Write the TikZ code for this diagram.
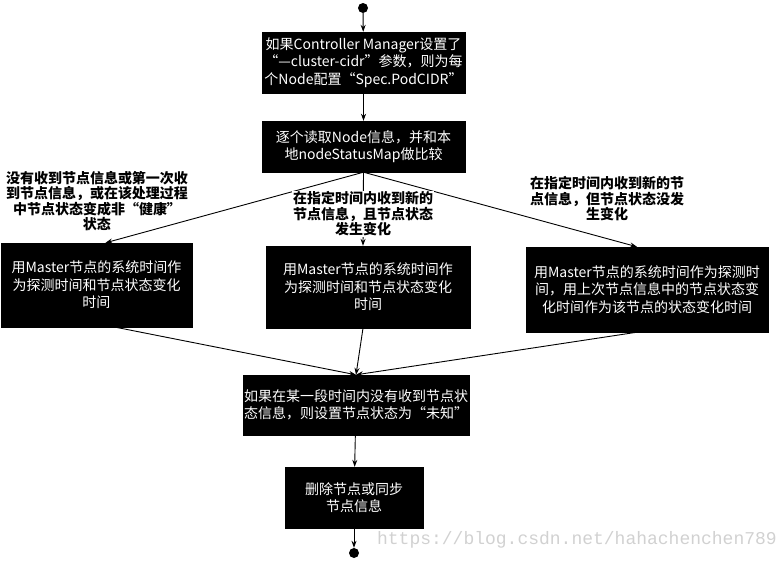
\documentclass[tikz,border=0pt]{standalone}
\usepackage{fontspec}
\setmainfont{Noto Sans CJK SC}
\newfontfamily\wmfont{Liberation Mono}
\usetikzlibrary{arrows.meta}
\tikzset{
  box/.style={draw=black, fill=black, text=white, align=center, inner sep=0pt,
    font=\fontsize{14}{17.5}\selectfont},
  lbl/.style={align=center, inner sep=1pt, font=\bfseries\fontsize{14}{15.5}\selectfont},
  dot/.style={circle, fill=black, inner sep=0pt, minimum size=10pt},
  arr/.style={line width=0.9pt, -{Stealth[length=7pt,width=5pt]}},
}
\begin{document}
\begin{tikzpicture}[x=1pt,y=-1pt]
\useasboundingbox (0,0) rectangle (777,560);
\node[dot] (s) at (363,8) {};
\node[box, minimum width=203pt, minimum height=61pt] (b1) at (363.5,62.5)
  {如果Controller Manager设置了\\“—cluster-cidr”参数，则为每\\个Node配置“Spec.PodCIDR”};
\node[box, minimum width=203pt, minimum height=51pt] (b2) at (363.5,146.5)
  {逐个读取Node信息，并和本\\地nodeStatusMap做比较};
\node[box, minimum width=191pt, minimum height=84pt] (bL) at (96.5,285)
  {用Master节点的系统时间作\\为探测时间和节点状态变化\\时间};
\node[box, minimum width=204pt, minimum height=82pt] (bM) at (368,287)
  {用Master节点的系统时间作\\为探测时间和节点状态变化\\时间};
\node[box, minimum width=242pt, minimum height=85pt] (bR) at (647,289.5)
  {用Master节点的系统时间作为探测时\\间，用上次节点信息中的节点状态变\\化时间作为该节点的状态变化时间};
\node[box, minimum width=226pt, minimum height=60pt] (b4) at (356,405)
  {如果在某一段时间内没有收到节点状\\态信息，则设置节点状态为“未知”};
\node[box, minimum width=138pt, minimum height=61pt] (b5) at (354,497.5)
  {删除节点或同步\\节点信息};
\node[dot] (e) at (354,553) {};

\draw[arr] (s) -- (b1);
\draw[arr] (b1) -- (b2);
\draw[arr] (b2.south) -- ([xshift=9pt]bL.north);
\draw[arr] (b2.south) -- ([xshift=-5pt]bM.north);
\draw[arr] (b2.south) -- ([xshift=-10pt]bR.north);
\draw[arr] ([xshift=19pt]bL.south) -- (b4.north);
\draw[arr] ([xshift=-5pt]bM.south) -- (b4.north);
\draw[arr] ([xshift=-10pt]bR.south) -- (b4.north);
\draw[arr] (b4) -- (b5);
\draw[arr] (b5) -- (e);

\node[lbl] (lL) at (97,201) {没有收到节点信息或第一次收\\到节点信息，或在该处理过程\\中节点状态变成非“健康”\\状态};
\node[lbl, fill=white] (lM) at (363,214) {在指定时间内收到新的\\节点信息，且节点状态\\发生变化};
\node[lbl] (lR) at (607,199) {在指定时间内收到新的节\\点信息，但节点状态没发\\生变化};

\node[anchor=east, text=black!18, inner sep=0pt, font=\wmfont\fontsize{18}{18}\selectfont] (wm) at (777,540) {https://blog.csdn.net/hahachenchen789};
\end{tikzpicture}
\end{document}
